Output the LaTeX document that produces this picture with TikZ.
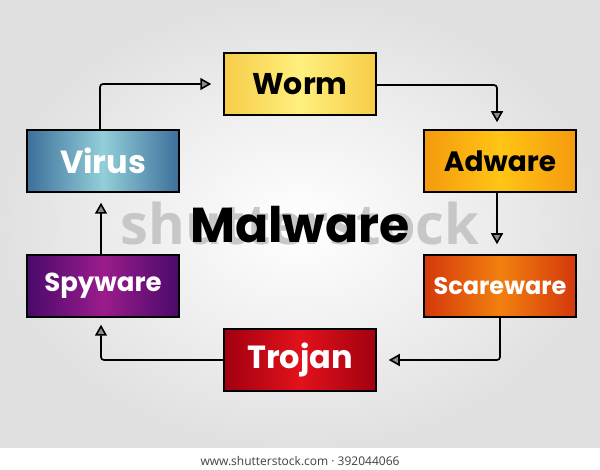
\documentclass[tikz,border=0pt]{standalone}
\usepackage{fontspec}
\setmainfont{Poppins}
\newfontfamily\wmfont{Open Sans}
\usetikzlibrary{arrows.meta}
\definecolor{wormE}{HTML}{F6CC48}
\definecolor{wormC}{HTML}{FFF07E}
\definecolor{adE}{HTML}{F59A0E}
\definecolor{adC}{HTML}{FFC515}
\definecolor{scE}{HTML}{D4380C}
\definecolor{scC}{HTML}{F2800F}
\definecolor{trE}{HTML}{A10010}
\definecolor{trC}{HTML}{E2121C}
\definecolor{spE}{HTML}{4A0A6A}
\definecolor{spC}{HTML}{9A1C8C}
\definecolor{viE}{HTML}{3D6F9B}
\definecolor{viC}{HTML}{92CFD8}
\tikzset{
  stepbox/.style={draw=black, line width=1.5pt, minimum width=152pt, minimum height=62pt, inner sep=0pt, font=\fontsize{30}{32}\selectfont\bfseries},
  flow/.style={draw=black, line width=1.7pt, -{Triangle[open, fill=black!45, length=11pt, width=12pt, line width=1.6pt]}, rounded corners=3pt},
}
\begin{document}
\begin{tikzpicture}[x=1pt,y=-1pt]
\useasboundingbox (0,0) rectangle (600,470);
\shade[inner color=white, outer color=black!12] (0,0) rectangle (600,448);
\fill[white] (0,448) rectangle (600,470);
% watermark
\node[font=\wmfont\fontsize{56}{56}\selectfont\bfseries, text=black!22] (wm) at (300,224) {shutterstock};
\node[font=\wmfont\fontsize{12}{12}\selectfont, text=black!75] (foot) at (300,461) {www.shutterstock.com · 392044066};
% boxes
\node[stepbox, left color=wormE, right color=wormE, middle color=wormC] (worm) at (300,84) {Worm};
\node[stepbox, left color=adE, right color=adE, middle color=adC, font=\fontsize{28}{30}\selectfont\bfseries] (adware) at (500,161) {Adware};
\node[stepbox, left color=scE, right color=scE, middle color=scC, text=white, font=\fontsize{24}{26}\selectfont\bfseries] (scare) at (500,286) {Scareware};
\node[stepbox, left color=trE, right color=trE, middle color=trC, text=white, font=\fontsize{32}{34}\selectfont\bfseries] (trojan) at (300,360) {Trojan};
\node[stepbox, left color=spE, right color=spE, middle color=spC, text=white, font=\fontsize{26}{28}\selectfont\bfseries] (spy) at (103,286) {Spyware};
\node[stepbox, left color=viE, right color=viE, middle color=viC, text=white, font=\fontsize{32}{34}\selectfont\bfseries] (virus) at (103,161) {Virus};
% center
\node[font=\fontsize{49}{50}\selectfont\bfseries] (mal) at (300,225) {Malware};
% connectors
\coordinate (c2) at (497,85);
\draw[flow, shorten >=12pt] ([xshift=-3pt]virus.north) |- (worm.west);
\draw[flow, shorten >=7pt] (worm.east |- c2) -| ([xshift=-3pt]adware.north);
\draw[flow, shorten >=10pt] ([xshift=-3pt]adware.south) -- ([xshift=-3pt]scare.north);
\draw[flow, shorten >=12pt] (scare.south) |- (trojan.east);
\draw[flow, shorten >=7pt] (trojan.west) -| ([xshift=-2pt]spy.south);
\draw[flow, shorten >=10pt] ([xshift=-2pt]spy.north) -- ([xshift=-2pt]virus.south);
\end{tikzpicture}
\end{document}
